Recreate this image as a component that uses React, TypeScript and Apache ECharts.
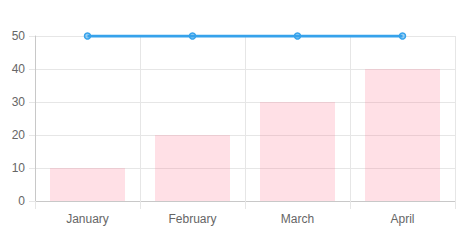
import React, { useEffect, useRef } from "react";
import * as echarts from "echarts";

const categories = ["January", "February", "March", "April"];
const barValues = [10, 20, 30, 40];
const lineValues = [50, 50, 50, 50];
const yTicks = { min: 0, max: 50, interval: 10 };

export default function App() {
  const ref = useRef<HTMLDivElement>(null);
  useEffect(() => {
    if (!ref.current) return;
    const chart = echarts.init(ref.current, undefined, { renderer: "svg" });
    const font = "'Liberation Sans', Helvetica, Arial, sans-serif";
    chart.setOption({
      animation: false,
      grid: { left: 35, right: 12, top: 36, bottom: 39 },
      xAxis: {
        type: "category",
        data: categories,
        boundaryGap: true,
        axisLine: { show: true, lineStyle: { color: "#c8c8c8", width: 1 } },
        axisTick: { show: true, length: 8, lineStyle: { color: "#e6e6e6" } },
        splitLine: { show: true, lineStyle: { color: "#e6e6e6", width: 1 } },
        axisLabel: { color: "#666", fontSize: 12, fontFamily: font, margin: 12 },
      },
      yAxis: {
        type: "value",
        min: yTicks.min,
        max: yTicks.max,
        interval: yTicks.interval,
        axisLine: { show: true, lineStyle: { color: "#c8c8c8", width: 1 } },
        axisTick: { show: true, length: 6, lineStyle: { color: "#e6e6e6" } },
        splitLine: { show: true, lineStyle: { color: "#e6e6e6", width: 1 } },
        axisLabel: { color: "#666", fontSize: 12, fontFamily: font, margin: 10 },
      },
      series: [
        {
          type: "bar",
          data: barValues,
          barCategoryGap: "28.6%",
          itemStyle: { color: "rgba(255,99,132,0.2)" },
          z: 1,
        },
        {
          type: "line",
          data: lineValues,
          symbol: "circle",
          symbolSize: 6,
          lineStyle: { color: "rgb(54,162,235)", width: 3 },
          itemStyle: { color: "rgba(54,162,235,0.5)", borderColor: "rgb(54,162,235)", borderWidth: 1.5 },
          z: 3,
        },
      ],
    });
    return () => chart.dispose();
  }, []);
  return <div ref={ref} style={{ width: 467, height: 240, position: "absolute", left: 0, top: 0 }} />;
}
